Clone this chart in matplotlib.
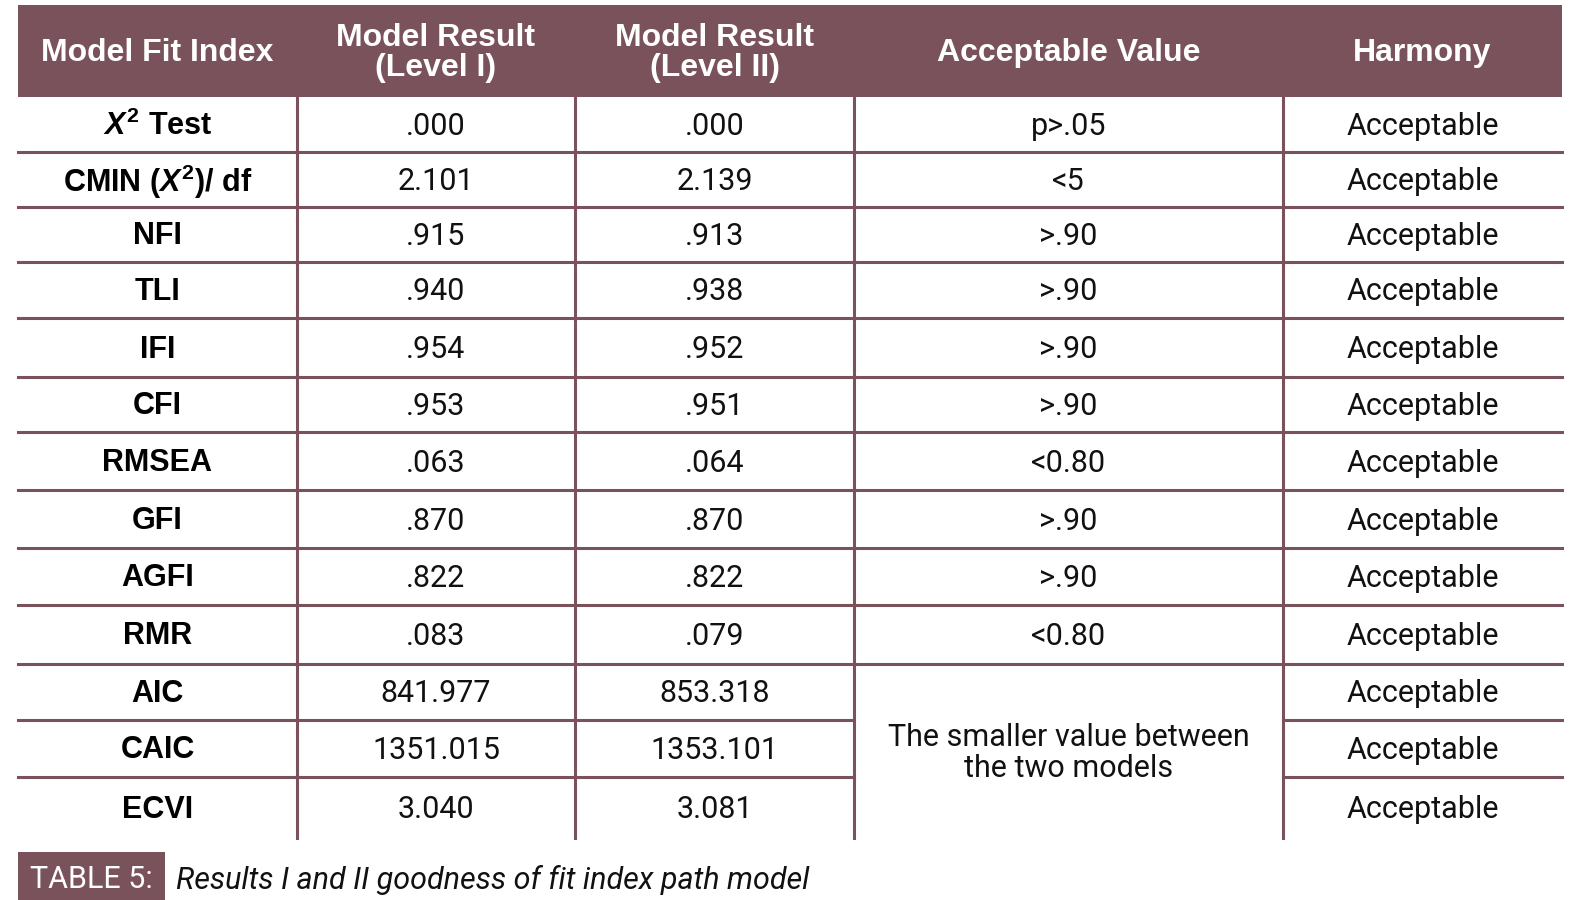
import matplotlib
matplotlib.use("Agg")
import matplotlib.pyplot as plt
from matplotlib.patches import Rectangle

plt.rcParams['mathtext.fontset'] = 'custom'
plt.rcParams['mathtext.it'] = 'Liberation Sans:italic:bold'
plt.rcParams['mathtext.rm'] = 'Liberation Sans:bold'
plt.rcParams['mathtext.bf'] = 'Liberation Sans:bold'

headers = ["Model Fit Index", "Model Result\n(Level I)", "Model Result\n(Level II)", "Acceptable Value", "Harmony"]
indices = [r"$X^2$ Test", r"CMIN ($X^2$)/ df", "NFI", "TLI", "IFI", "CFI", "RMSEA", "GFI", "AGFI", "RMR", "AIC", "CAIC", "ECVI"]
level1 = [".000", "2.101", ".915", ".940", ".954", ".953", ".063", ".870", ".822", ".083", "841.977", "1351.015", "3.040"]
level2 = [".000", "2.139", ".913", ".938", ".952", ".951", ".064", ".870", ".822", ".079", "853.318", "1353.101", "3.081"]
acceptable = ["p>.05", "<5", ">.90", ">.90", ">.90", ">.90", "<0.80", ">.90", ">.90", "<0.80"]
acceptable_merged = "The smaller value between\nthe two models"
harmony = ["Acceptable"] * 13
caption_label = "TABLE 5:"
caption = "Results I and II goodness of fit index path model"

C = "#7a525c"
W, H = 1596, 900
fig = plt.figure(figsize=(W/100, H/100), dpi=100)
ax = fig.add_axes([0, 0, 1, 1])
ax.set_xlim(0, W); ax.set_ylim(H, 0); ax.axis('off')

xs = [18, 297, 575, 854, 1283, 1562]
ys = [5, 97, 152, 207, 262, 318, 377, 432, 490, 548, 605, 664, 720, 777, 838]

ax.add_patch(Rectangle((xs[0], ys[0]), xs[-1]-xs[0], ys[1]-ys[0], color=C, lw=0))
for j, h in enumerate(headers):
    ax.text((xs[j]+xs[j+1])/2, (ys[0]+ys[1])/2 + 2, h, ha='center', va='center', color='white',
            fontsize=23, fontweight='bold', family='Liberation Sans', linespacing=1.0)

lw = 2.2
for r in range(12):
    y = ys[r+2]
    if r in (10, 11):
        for (a, b) in [(xs[0], xs[3]), (xs[4], xs[5])]:
            ax.plot([a, b], [y, y], color=C, lw=lw)
    else:
        ax.plot([xs[0], xs[5]], [y, y], color=C, lw=lw)
for x in xs[1:5]:
    ax.plot([x, x], [ys[1], ys[-1]], color=C, lw=lw)

for i in range(13):
    yc = (ys[i+1]+ys[i+2])/2 + 2
    ax.text((xs[0]+xs[1])/2, yc, indices[i], ha='center', va='center', fontsize=22,
            fontweight='bold', family='Liberation Sans')
    for j, col in [(1, level1), (2, level2), (4, harmony)]:
        ax.text((xs[j]+xs[j+1])/2, yc, col[i], ha='center', va='center', fontsize=22,
                family='Roboto', color='#111111')
    if i < len(acceptable):
        ax.text((xs[3]+xs[4])/2, yc, acceptable[i], ha='center', va='center', fontsize=22,
                family='Roboto', color='#111111')
ax.text((xs[3]+xs[4])/2, (ys[11]+ys[14])/2 + 2, acceptable_merged, ha='center', va='center',
        fontsize=22, family='Roboto', color='#111111', linespacing=1.1)

ax.add_patch(Rectangle((18, 852), 147, 60, color=C, lw=0))
ax.text(91, 880, caption_label, ha='center', va='center', color='white', fontsize=22, family='Roboto')
ax.text(176, 880, caption, ha='left', va='center', fontsize=22, family='Roboto', style='italic', color='#111111')

fig.savefig("out.png", dpi=100)
